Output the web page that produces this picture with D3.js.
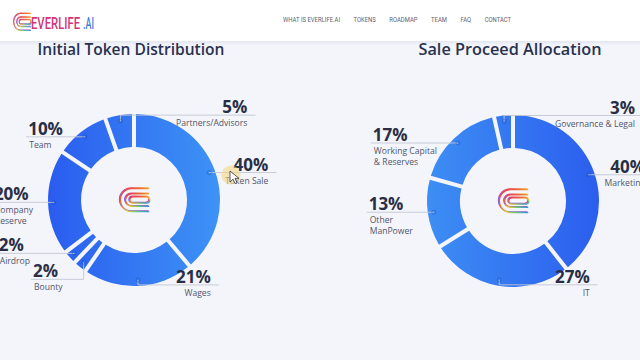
<!DOCTYPE html>
<html>
<head>
<meta charset="utf-8">
<script src="https://cdn.jsdelivr.net/npm/d3@7"></script>
<style>
  html, body { margin: 0; padding: 0; background: #f3f5fb; }
  svg { display: block; }
</style>
</head>
<body>
<svg id="chart" width="640" height="360"></svg>
<script>
// chart data
const tokenCats = [["Token Sale"], ["Wages"], ["Bounty"], ["Airdrop"], ["Company", "Reserve"], ["Team"], ["Partners/Advisors"]];
const tokenVals = [40, 21, 2, 2, 20, 10, 5];

const saleCats = [["Marketing"], ["IT"], ["Other", "ManPower"], ["Working Capital", "& Reserves"], ["Governance & Legal"]];
const saleVals = [40, 27, 13, 17, 3];

const navItems = ["WHAT IS EVERLIFE.AI", "TOKENS", "ROADMAP", "TEAM", "FAQ", "CONTACT"];

const width = 640, height = 360;
const outerR = 86, innerR = 53, dotR = 80;

const svg = d3.select('#chart');
const defs = svg.append('defs');

// background + header
svg.append('rect').attr('width', width).attr('height', height).attr('fill', '#f3f5fb');

const shadow = defs.append('linearGradient').attr('id', 'hdrShadow')
    .attr('x1', 0).attr('y1', 0).attr('x2', 0).attr('y2', 1);
shadow.append('stop').attr('offset', 0).attr('stop-color', '#d9dcea').attr('stop-opacity', 0.9);
shadow.append('stop').attr('offset', 1).attr('stop-color', '#f3f5fb').attr('stop-opacity', 0);
svg.append('rect').attr('x', 0).attr('y', 40).attr('width', width).attr('height', 7).attr('fill', 'url(#hdrShadow)');
svg.append('rect').attr('width', width).attr('height', 41).attr('fill', '#ffffff');

// rainbow gradients for the E logo
const rainbow = defs.append('linearGradient').attr('id', 'rainbow')
    .attr('x1', 0).attr('y1', 0).attr('x2', 1).attr('y2', 1);
[['0', '#e8344e'], ['0.35', '#f06a3a'], ['0.6', '#f5c531'], ['0.8', '#63c976'], ['1', '#3a8ff0']]
    .forEach(([o, c]) => rainbow.append('stop').attr('offset', o).attr('stop-color', c));
const rainbow2 = defs.append('linearGradient').attr('id', 'rainbow2')
    .attr('x1', 0).attr('y1', 1).attr('x2', 1).attr('y2', 0);
[['0', '#4b7df0'], ['0.4', '#a04fd0'], ['0.7', '#e8485a'], ['1', '#f5b733']]
    .forEach(([o, c]) => rainbow2.append('stop').attr('offset', o).attr('stop-color', c));

const drawLogo = (g, s) => {
    const paths = [
        'M14,-11 H-2 A11,11 0 0 0 -2,11 H14',
        'M14,-6 H-2 A6,6 0 0 0 -2,6 H14',
        'M12,-3 H-1 A3,3 0 0 0 -1,3 H12 A3,3 0 0 0 12,-3 Z'
    ];
    const inner = g.append('g').attr('transform', `scale(${s})`);
    paths.forEach(p => {
        inner.append('path').attr('d', p).attr('fill', 'none')
            .attr('stroke', 'url(#rainbow2)').attr('stroke-width', 1.3)
            .attr('transform', 'translate(-0.8,-0.6)').attr('stroke-linecap', 'round');
        inner.append('path').attr('d', p).attr('fill', 'none')
            .attr('stroke', 'url(#rainbow)').attr('stroke-width', 1.3).attr('stroke-linecap', 'round');
    });
};

drawLogo(svg.append('g').attr('transform', 'translate(22,22) scale(0.62,0.78)'), 1);

const brandFont = (t) => t
    .attr('font-family', 'Roboto, sans-serif')
    .attr('font-size', 17).attr('font-weight', 500)
    .attr('lengthAdjust', 'spacingAndGlyphs');
brandFont(svg.append('text').attr('x', 31).attr('y', 29)
    .attr('textLength', 49).attr('fill', '#d2357a').text('EVERLIFE'));
brandFont(svg.append('text').attr('x', 83).attr('y', 29)
    .attr('textLength', 11).attr('fill', '#3d7fe0').text('.AI'));

// navigation
const nav = svg.append('g')
    .attr('font-family', 'Roboto, sans-serif')
    .attr('font-size', 7.4)
    .attr('fill', '#5f6270');
let navX = 283;
navItems.forEach(item => {
    const t = nav.append('text').attr('x', navX).attr('y', 22).text(item);
    const w = t.node().getComputedTextLength() * 0.8;
    t.attr('textLength', w).attr('lengthAdjust', 'spacingAndGlyphs');
    navX += w + 13.5;
});

// donut chart
const pie = d3.pie().sort(null).value(d => d.v).padAngle(0.04);
const arc = d3.arc().innerRadius(innerR).outerRadius(outerR);

const drawDonut = (opts) => {
    const { cats, vals, cx, cy, title, titleW, gradId, gradFrom, gradTo } = opts;
    const data = cats.map((c, i) => ({ lines: c, v: vals[i] }));

    // gradient in the donut group's own coordinates
    const grad = defs.append('linearGradient').attr('id', gradId)
        .attr('gradientUnits', 'userSpaceOnUse')
        .attr('x1', -outerR).attr('y1', 0).attr('x2', outerR).attr('y2', 0);
    grad.append('stop').attr('offset', 0).attr('stop-color', gradFrom);
    grad.append('stop').attr('offset', 1).attr('stop-color', gradTo);

    svg.append('text')
        .attr('x', cx - 3).attr('y', 55)
        .attr('text-anchor', 'middle')
        .attr('font-family', '"Open Sans", sans-serif')
        .attr('font-weight', 600).attr('font-size', 16.5)
        .attr('fill', '#29314f')
        .attr('textLength', titleW).attr('lengthAdjust', 'spacingAndGlyphs')
        .text(title);

    const g = svg.append('g').attr('transform', `translate(${cx},${cy})`);
    const arcs = pie(data);

    g.selectAll('path.slice')
        .data(arcs)
        .join('path')
        .attr('class', 'slice')
        .attr('d', arc)
        .attr('fill', `url(#${gradId})`);

    drawLogo(g.append('g'), 1.05);

    // label placement: dot on the slice, leader line out to the side
    const lg = g.append('g');
    const labels = arcs.map(d => {
        const a = (d.startAngle + d.endAngle) / 2;
        const dx = Math.sin(a) * dotR, dy = -Math.cos(a) * dotR;
        let y = dy;
        if (Math.cos(a) > 0.9) y = dy - 6;
        if (Math.cos(a) < -0.9) y = dy + 5;
        const grp = lg.append('g');
        const pct = grp.append('text')
            .attr('font-family', '"Open Sans", sans-serif')
            .attr('font-weight', 700).attr('font-size', 17)
            .attr('fill', '#2a2e44')
            .text(d.data.v + '%');
        const names = d.data.lines.map(line => grp.append('text')
            .attr('font-family', '"Open Sans", sans-serif')
            .attr('font-size', 8.6)
            .attr('fill', '#51566a')
            .text(line));
        const wPct = pct.node().getComputedTextLength();
        const wName = d3.max(names, n => n.node().getComputedTextLength());
        const wMax = Math.max(wPct, wName);
        const right = Math.sin(a) > -0.18;
        const tx = right ? Math.max(dx + 16, 42) : dx - 22 - wMax;
        return { grp, pct, names, wMax, dotX: dx, dotY: dy, y, right, tx };
    });

    // push overlapping labels down; on the left, slide the upper one outward
    [true, false].forEach(side => {
        const s = labels.filter(l => l.right === side).sort((p, q) => p.y - q.y);
        for (let i = 1; i < s.length; i++) {
            if (s[i].y - s[i - 1].y < 26) {
                s[i].y = s[i - 1].y + 26;
                if (!side) s[i - 1].tx = Math.min(s[i - 1].tx, s[i].tx - s[i - 1].wMax - 4);
            }
        }
    });

    labels.forEach(l => {
        l.pct.attr('y', l.y - 2);
        l.names.forEach((n, k) => n.attr('y', l.y + 11 + k * 11));
        let x0, x1;
        if (l.right) {
            const edge = l.tx + l.wMax;
            l.pct.attr('x', edge).attr('text-anchor', 'end');
            l.names.forEach(n => n.attr('x', edge).attr('text-anchor', 'end'));
            x0 = l.dotX; x1 = edge + 8;
        } else {
            l.pct.attr('x', l.tx);
            l.names.forEach(n => n.attr('x', l.tx + 1));
            x0 = l.tx - 2; x1 = l.dotX;
        }
        const path = l.y === l.dotY
            ? `M${x0},${l.y} H${x1}`
            : (l.right
                ? `M${l.dotX},${l.dotY} V${l.y} H${x1}`
                : `M${x0},${l.y} H${l.dotX} V${l.dotY}`);
        l.grp.insert('path', ':first-child')
            .attr('d', path)
            .attr('fill', 'none')
            .attr('stroke', '#c3c7d4')
            .attr('stroke-width', 0.9);
        l.grp.append('circle')
            .attr('cx', l.dotX).attr('cy', l.dotY).attr('r', 2)
            .attr('fill', 'none')
            .attr('stroke', '#1f4fb0').attr('stroke-opacity', 0.55)
            .attr('stroke-width', 0.8);
    });
};

drawDonut({
    cats: tokenCats, vals: tokenVals, cx: 134, cy: 200,
    title: 'Initial Token Distribution', titleW: 187,
    gradId: 'gradLeft', gradFrom: '#2a5cef', gradTo: '#3d93f6'
});
drawDonut({
    cats: saleCats, vals: saleVals, cx: 513, cy: 201,
    title: 'Sale Proceed Allocation', titleW: 183,
    gradId: 'gradRight', gradFrom: '#3d8ef4', gradTo: '#2b5eee'
});

// screen-recording cursor highlight
svg.append('circle').attr('cx', 231).attr('cy', 175).attr('r', 9.5)
    .attr('fill', '#f6d47a').attr('opacity', 0.55);
svg.append('path')
    .attr('d', 'M0,0 L0,11 L3,8.2 L5,12.5 L7,11.6 L5,7.4 L9,7.4 Z')
    .attr('transform', 'translate(230,171)')
    .attr('fill', '#ffffff').attr('stroke', '#333').attr('stroke-width', 0.8);
</script>
</body>
</html>
